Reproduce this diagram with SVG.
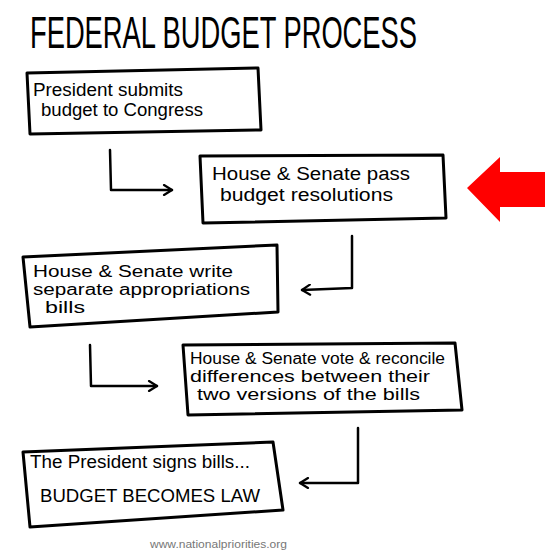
<svg xmlns="http://www.w3.org/2000/svg" width="556" height="551" viewBox="0 0 556 551">
<defs>
<style>
.box{fill:#fff;stroke:#000;stroke-width:3;stroke-linejoin:round}
.t{font-family:"Liberation Sans","DejaVu Sans",sans-serif;font-size:18px;fill:#000}
.s{font-size:16px}
.conn{fill:none;stroke:#000;stroke-width:2.5;stroke-linecap:round;stroke-linejoin:round}
</style>
<marker id="ah" viewBox="0 0 12 12" refX="10" refY="6" markerWidth="12" markerHeight="12" markerUnits="userSpaceOnUse" orient="auto">
<polyline points="2,1 10,6 2,11" fill="none" stroke="#000" stroke-width="2.2" stroke-linecap="round" stroke-linejoin="round"/>
</marker>
</defs>
<rect width="556" height="551" fill="#fff"/>
<text transform="translate(30,48) scale(1,1.45)" x="0" y="0" font-family="Liberation Sans, DejaVu Sans, sans-serif" font-size="30" textLength="387" lengthAdjust="spacingAndGlyphs" fill="#000">FEDERAL BUDGET PROCESS</text>

<g id="connectors">
<polyline class="conn" points="110,150 111,190 172,190" marker-end="url(#ah)"/>
<polyline class="conn" points="352,236 352,288 302,290" marker-end="url(#ah)"/>
<polyline class="conn" points="90,345 91,386 157,386" marker-end="url(#ah)"/>
<polyline class="conn" points="358,428 358,483 300,483" marker-end="url(#ah)"/>
</g>

<g id="n1">
<polygon class="box" points="27,73 258,68 261,130 30,134"/>
<text class="t" x="33" y="96" textLength="150" lengthAdjust="spacingAndGlyphs">President submits</text>
<text class="t" x="41" y="116" textLength="162" lengthAdjust="spacingAndGlyphs">budget to Congress</text>
</g>

<g id="n2">
<polygon class="box" points="200,156 443,155 446,218 203,223"/>
<text class="t" x="212" y="180" textLength="198" lengthAdjust="spacingAndGlyphs">House &amp; Senate pass</text>
<text class="t" x="220" y="201" textLength="173" lengthAdjust="spacingAndGlyphs">budget resolutions</text>
</g>

<g id="red-arrow">
<polygon points="467,188 500,157 500,172 545,172 545,207 500,207 500,222" fill="#ff0000"/>
</g>

<g id="n3">
<polygon class="box" points="23,257 277,245 278,312 30,327"/>
<text class="t s" x="33" y="277" textLength="200" lengthAdjust="spacingAndGlyphs">House &amp; Senate write</text>
<text class="t s" x="33" y="295" textLength="217" lengthAdjust="spacingAndGlyphs">separate appropriations</text>
<text class="t s" x="45" y="313" textLength="40" lengthAdjust="spacingAndGlyphs">bills</text>
</g>

<g id="n4">
<polygon class="box" points="183,345 455,343 462,410 188,415"/>
<text class="t s" x="190" y="364" textLength="255" lengthAdjust="spacingAndGlyphs">House &amp; Senate vote &amp; reconcile</text>
<text class="t s" x="190" y="382" textLength="240" lengthAdjust="spacingAndGlyphs">differences between their</text>
<text class="t s" x="197" y="400" textLength="223" lengthAdjust="spacingAndGlyphs">two versions of the bills</text>
</g>

<g id="n5">
<polygon class="box" points="23,452 273,442 283,510 30,527"/>
<text class="t" x="30" y="468" textLength="220" lengthAdjust="spacingAndGlyphs">The President signs bills...</text>
<text class="t" x="40" y="502" font-size="21" textLength="220" lengthAdjust="spacingAndGlyphs">BUDGET BECOMES LAW</text>
</g>

<text x="150" y="548" font-family="Liberation Sans, DejaVu Sans, sans-serif" font-size="11.5" fill="#777" textLength="137" lengthAdjust="spacingAndGlyphs">www.nationalpriorities.org</text>
</svg>
